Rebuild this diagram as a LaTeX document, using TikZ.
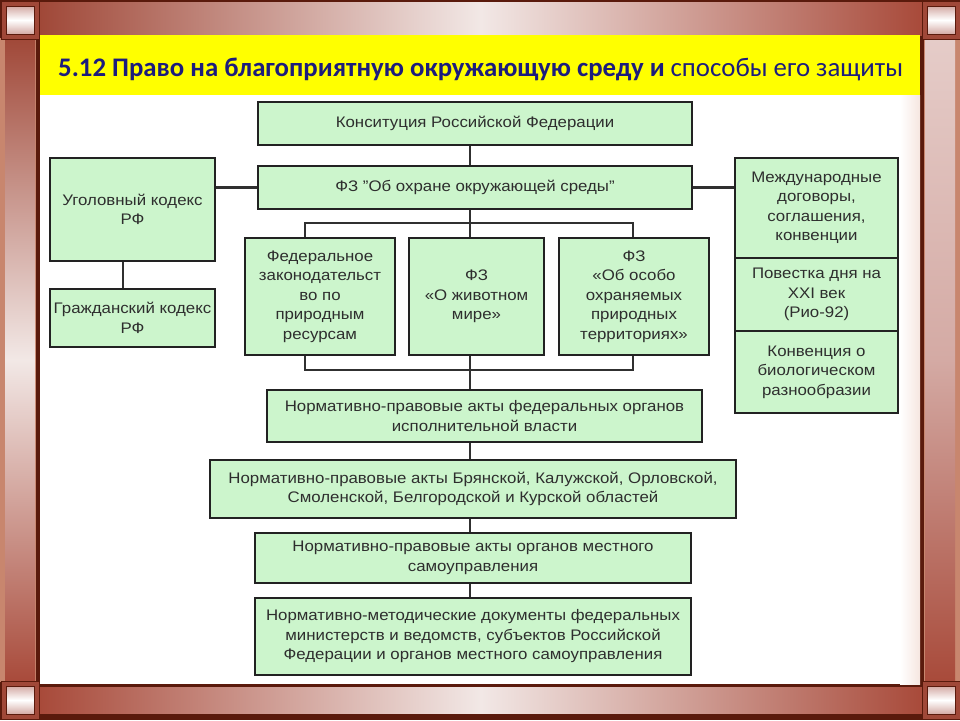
\documentclass[tikz,border=0pt]{standalone}
\usepackage{fontspec}
\setmainfont[FakeStretch=1.1]{Liberation Sans}
\newfontfamily\titlefont{Carlito}
\usetikzlibrary{calc}
\definecolor{boxfill}{HTML}{CCF5CC}
\definecolor{boxline}{HTML}{222222}
\definecolor{boxtext}{HTML}{2E2E2E}
\definecolor{linkc}{HTML}{303030}
\definecolor{titleblue}{HTML}{1C1C7C}
\definecolor{ttlyellow}{HTML}{FFFF00}
\definecolor{frdark}{HTML}{5A1A0C}
\definecolor{frbrown}{HTML}{A04838}
\definecolor{frred}{HTML}{A84A3A}
\definecolor{frlight}{HTML}{F2E8E6}
\definecolor{frpink}{HTML}{D4AAA4}
\definecolor{frsalmon}{HTML}{C8866E}
\definecolor{strip}{HTML}{F6E6E0}
\begin{document}
\begin{tikzpicture}[x=1pt,y=-1pt,
  box/.style={draw=boxline, line width=1.8pt, fill=boxfill, text=boxtext,
    align=center, inner sep=2pt, font=\fontsize{15.3}{19.5}\selectfont},
  link/.style={draw=linkc, line width=2.4pt},
  cornerbox/.style={fill=frbrown, draw=frdark, line width=1pt},
  cornerin/.style={top color=frpink, bottom color=frpink, middle color=white, draw=frdark, line width=0.6pt}]
\useasboundingbox (0,0) rectangle (960,720);
% ---------- frame ----------
\fill[frdark] (0,0) rectangle (960,720);
\shade[left color=frbrown, right color=frred, middle color=frlight] (40,2) rectangle (922,35);
\shade[left color=frred, right color=frred, middle color=frlight] (40,687) rectangle (922,713);
\fill[frsalmon] (0,38) rectangle (36,682);
\shade[top color=frbrown, bottom color=frred, middle color=frlight] (5,38) rectangle (35,682);
\fill[frsalmon] (924,38) rectangle (960,682);
\shade[top color=frpink!60!white, bottom color=frred, middle color=frpink] (925,38) rectangle (955,682);
% corners
\foreach \cx/\cy in {0/0, 921/0, 0/680, 921/680}{
  \fill[cornerbox] (\cx+1,\cy+1) rectangle (\cx+39,\cy+39);
  \shade[cornerin] (\cx+6,\cy+6) rectangle (\cx+34,\cy+34);
}
% content area
\fill[white] (40,95) rectangle (920,684);
\shade[left color=white, right color=strip] (900,95) rectangle (920,684);
\fill[ttlyellow] (40,35) rectangle (920,95);
% title
\node[anchor=base west, inner sep=0, text=titleblue,
  font=\titlefont\fontsize{26.8}{30}\selectfont] (title) at (58,76)
  {\textbf{5.12 Право на благоприятную окружающую среду и} способы его защиты};
% ---------- boxes ----------
\node[box, minimum width=434pt, minimum height=43pt] (con) at (475,123.5) {Конситуция Российской Федерации};
\node[box, minimum width=434pt, minimum height=43pt] (fz) at (475,187.5) {ФЗ "Об охране окружающей среды"};
\node[box, minimum width=165pt, minimum height=103pt] (uk) at (132.5,209.5) {Уголовный кодекс\\РФ};
\node[box, minimum width=165pt, minimum height=58pt] (gk) at (132.5,318) {Гражданский кодекс\\РФ};
\node[box, minimum width=163pt, minimum height=100pt] (intl) at (816.5,208) {Международные\\договоры,\\соглашения,\\конвенции};
\node[box, minimum width=163pt, minimum height=73pt] (agenda) at (816.5,294.5) {Повестка дня на\\XXI век\\(Рио-92)};
\node[box, minimum width=163pt, minimum height=82pt] (bio) at (816.5,372) {Конвенция о\\биологическом\\разнообразии};
\node[box, minimum width=150pt, minimum height=117pt] (fed) at (320,296.5) {Федеральное\\законодательст\\во по\\природным\\ресурсам};
\node[box, minimum width=135pt, minimum height=117pt] (animal) at (476.5,296.5) {ФЗ\\«О животном\\мире»};
\node[box, minimum width=150pt, minimum height=117pt] (oopt) at (634,296.5) {ФЗ\\«Об особо\\охраняемых\\природных\\территориях»};
\node[box, minimum width=435pt, minimum height=52pt] (exec) at (484.5,416) {Нормативно-правовые акты федеральных органов\\исполнительной власти};
\node[box, minimum width=526pt, minimum height=58pt] (reg) at (473,489) {Нормативно-правовые акты Брянской, Калужской, Орловской,\\Смоленской, Белгородской и Курской областей};
\node[box, minimum width=436pt, minimum height=50pt] (local) at (473,558) {Нормативно-правовые акты органов местного\\самоуправления};
\node[box, minimum width=436pt, minimum height=77pt] (method) at (473,636.5) {Нормативно-методические документы федеральных\\министерств и ведомств, субъектов Российской\\Федерации и органов местного самоуправления};
% ---------- connectors ----------
\coordinate (spine) at (470,0);
\coordinate (busL) at (305,223);
\coordinate (busR) at (633,223);
\coordinate (lbusL) at (305,370);
\coordinate (lbusR) at (633,370);
\draw[link] (con.south -| spine) -- (fz.north -| spine);
\draw[link] (uk.east |- fz.west) -- (fz.west);
\draw[link] (fz.east) -- (intl.west |- fz.east);
\draw[link] ([xshift=-9.5pt]uk.south) -- ([xshift=-9.5pt]gk.north);
\draw[link] (fz.south -| spine) -- (animal.north -| spine);
\draw[link] (fed.north -| busL) -- (busL) -- (busR) -- (oopt.north -| busR);
\draw[link] (fed.south -| lbusL) -- (lbusL) -- (lbusR) -- (oopt.south -| lbusR);
\draw[link] (animal.south -| spine) -- (exec.north -| spine);
\draw[link] (exec.south -| spine) -- (reg.north -| spine);
\draw[link] (reg.south -| spine) -- (local.north -| spine);
\draw[link] (local.south -| spine) -- (method.north -| spine);
\end{tikzpicture}
\end{document}
